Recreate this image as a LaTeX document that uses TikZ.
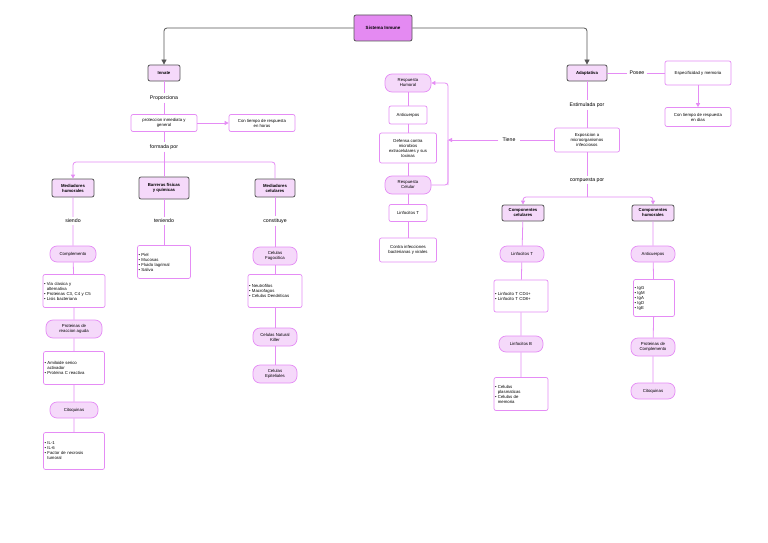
\documentclass[tikz,border=0pt]{standalone}
\usepackage{fontspec}
\setmainfont{Liberation Sans}
\usetikzlibrary{arrows.meta}
\definecolor{vl}{HTML}{E58CF5}
\definecolor{vfill}{HTML}{F5D9FA}
\definecolor{vdark}{HTML}{E48AF2}
\definecolor{gb}{HTML}{555555}
\begin{document}
\begin{tikzpicture}[x=1pt,y=-1pt,
 every node/.style={font=\fontsize{4.3}{5}\selectfont,align=center,inner sep=1pt},
 main/.style={draw=gb,line width=0.8pt,rounded corners=2pt,fill=vfill,minimum height=#1},
 main/.default=16pt,
 box/.style={draw=vl,line width=0.7pt,rounded corners=2pt,fill=white},
 pill/.style={draw=vl,line width=0.7pt,rounded corners=7pt,fill=vfill,minimum height=16pt},
 lab/.style={font=\fontsize{5.2}{6}\selectfont,fill=white,inner sep=2pt},
 ln/.style={draw=vl,line width=0.8pt},
 ar/.style={ln,-{Triangle[length=4pt,width=4pt]}},
 gar/.style={draw=gb,line width=0.8pt,rounded corners=3pt,-{Triangle[length=5pt,width=5pt]}},
 lst/.style={align=left,text width=#1}]
\useasboundingbox (0,0) rectangle (768,543);
\fill[white] (0,0) rectangle (768,543);
% root
\node[main=26pt,fill=vdark,minimum width=58pt,font=\fontsize{4.5}{5}\selectfont\bfseries] (si) at (383,28) {Sistema Inmune};
\node[main,minimum width=32pt,font=\fontsize{4.3}{5}\selectfont\bfseries] (in) at (164,73) {Innate};
\node[main,minimum width=40pt,font=\fontsize{4.3}{5}\selectfont\bfseries] (ad) at (587,73) {Adaptativa};
\draw[gar] (si.west) -| (in.north);
\draw[gar] (si.east) -| (ad.north);
% innate
\node[lab] (prop) at (164,98) {Proporciona};
\node[box,minimum width=66pt,minimum height=17pt] (pro) at (164,123) {proteccion inmediata y\\general};
\node[box,minimum width=66pt,minimum height=17pt] (hor) at (262,123) {Con tiempo de respuesta\\en horas};
\node[lab] (form) at (164,147) {formada por};
\draw[ln] (in) -- (prop) -- (pro) -- (form);
\draw[ar] (pro) -- (hor);
\node[main=18pt,minimum width=42pt,font=\fontsize{4.3}{5}\selectfont\bfseries] (mh) at (73,188) {Mediadores\\humorales};
\node[main=22pt,minimum width=50pt,font=\fontsize{4.3}{5}\selectfont\bfseries] (bf) at (164,188) {Barreras físicas\\y químicas};
\node[main=18pt,minimum width=40pt,font=\fontsize{4.3}{5}\selectfont\bfseries] (mc) at (275,188) {Mediadores\\celulares};
\coordinate (fj) at (164,162);
\draw[ln] (form) -- (fj);
\draw[ar,rounded corners=3pt] (fj) -| (mh.north);
\draw[ln,rounded corners=3pt] (fj) -| (mc.north);
\draw[ln] (fj) -- (bf.north);
\node[lab] (sie) at (73,221) {siendo};
\node[lab] (ten) at (164,221) {teniendo};
\node[lab] (con) at (275,221) {constituye};
\node[pill,minimum width=46pt] (comp) at (73,254) {Complemento};
\node[box,minimum height=33pt,lst=60pt] (via) at (74,291) {• Via clasica y\\\ \ alternativa\\• Proteinas C3, C4 y C5\\• Lisis bacteriana};
\node[pill,minimum width=56pt,minimum height=18pt] (pra) at (74,329) {Proteinas de\\reaccion aguda};
\node[box,minimum height=33pt,lst=59pt] (ami) at (74,368) {• Amiloide serico\\\ \ activador\\• Proteina C reactiva};
\node[pill,minimum width=48pt] (cit) at (74,410) {Citoquinas};
\node[box,minimum height=37pt,lst=59pt] (il) at (74,451) {• IL-1\\• IL-6\\• Factor de necrosis\\\ \ tumoral};
\draw[ln] (mh) -- (sie) -- (comp) -- (via) -- (pra) -- (ami) -- (cit) -- (il);
\node[box,minimum height=33pt,lst=51pt] (piel) at (164,262) {• Piel\\• Mucosas\\• Fluido lagrimal\\• Saliva};
\draw[ln] (bf) -- (ten) -- (piel);
\node[pill,minimum width=44pt,minimum height=18pt] (fag) at (275,256) {Celulas\\Fagocitica};
\node[box,minimum height=33pt,lst=52pt] (neu) at (275,291) {• Neutrofilos\\• Macrofagos\\• Celulas Dendriticas};
\node[pill,minimum width=44pt,minimum height=18pt] (nk) at (275,337) {Celulas Natural\\Killer};
\node[pill,minimum width=44pt,minimum height=18pt] (epi) at (275,374) {Celulas\\Epiteliales};
\draw[ln] (mc) -- (con) -- (fag) -- (neu) -- (nk) -- (epi);
% middle column
\node[pill,minimum width=46pt,minimum height=18pt] (rh) at (408,83) {Respuesta\\Humoral};
\node[box,minimum width=38pt,minimum height=18pt] (anc) at (408,115) {Anticuerpos};
\node[box,minimum width=57pt,minimum height=30pt] (def) at (408,148) {Defensa contra\\microbios\\extracelulares y sus\\toxinas};
\node[pill,minimum width=46pt,minimum height=18pt] (rc) at (408,185) {Respuesta\\Celular};
\node[box,minimum width=38pt,minimum height=17pt] (lt) at (408,213) {Linfocitos T};
\node[box,minimum width=57pt,minimum height=24pt] (cin) at (408,250) {Contra infecciones\\bacterianas y virales};
\draw[ln] (rh) -- (anc) -- (def) -- (rc) -- (lt) -- (cin);
\coordinate (bt) at (448,83);
\coordinate (bb) at (448,185);
\coordinate (bm) at (448,140);
\draw[ar,rounded corners=3pt] (bb) -- (bt) -- (rh.east);
\draw[ln,rounded corners=3pt] (rc.east) -- (bb) -- (bm);
% adaptive
\node[lab] (pos) at (637,73) {Posee};
\node[box,minimum width=66pt,minimum height=24pt] (esp) at (698,73) {Especificidad y memoria};
\node[box,minimum width=66pt,minimum height=19pt] (dia) at (698,117) {Con tiempo de respuesta\\en dias};
\draw[ln] (ad) -- (pos) -- (esp);
\draw[ar] (esp) -- (dia);
\node[lab] (est) at (587,105) {Estimulada por};
\node[box,minimum width=65pt,minimum height=24pt] (exp) at (587,140) {Exposicion a\\microorganismos\\infecciosos};
\draw[ln] (ad) -- (est) -- (exp);
\node[lab,inner sep=4pt] (tie) at (509,140) {Tiene};
\draw[ln] (exp) -- (tie);
\draw[ar] (tie) -- (bm);
\node[lab] (cmp) at (587,180) {compuesta por};
\draw[ln] (exp) -- (cmp);
\coordinate (cj) at (587,197);
\draw[ln] (cmp) -- (cj);
\node[main,minimum width=42pt,font=\fontsize{4.3}{5}\selectfont\bfseries] (cc) at (523,213) {Componentes\\celulares};
\node[main,minimum width=42pt,font=\fontsize{4.3}{5}\selectfont\bfseries] (ch) at (653,213) {Componentes\\humorales};
\draw[ar,rounded corners=3pt] (cj) -| (cc.north);
\draw[ar,rounded corners=3pt] (cj) -| (ch.north);
\node[pill,minimum width=44pt] (ltp) at (522,254) {Linfocitos T};
\node[box,minimum height=32pt,lst=52pt] (cd) at (521,296) {• Linfocito T CD4+\\• Linfocito T CD8+};
\node[pill,minimum width=44pt] (lb) at (521,344) {Linfocitos B};
\node[box,minimum height=33pt,lst=52pt] (pla) at (521,394) {• Celulas\\\ \ plasmaticas\\• Celulas de\\\ \ memoria};
\draw[ln] (cc) -- (ltp) -- (cd) -- (lb) -- (pla);
\node[pill,minimum width=44pt] (anp) at (653,254) {Anticuerpos};
\node[box,minimum height=37pt,lst=39pt] (ig) at (654,298) {• IgG\\• IgM\\• IgA\\• IgD\\• IgE};
\node[pill,minimum width=44pt,minimum height=18pt] (pc) at (653,347) {Proteinas de\\Complemento};
\node[pill,minimum width=44pt] (cq) at (653,391) {Citoquinas};
\draw[ln] (ch) -- (anp) -- (ig) -- (pc) -- (cq);
\end{tikzpicture}
\end{document}
